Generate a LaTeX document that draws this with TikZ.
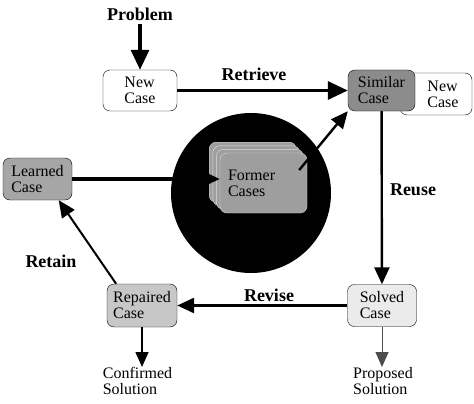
\documentclass[tikz,border=0pt]{standalone}
\usepackage{fontspec}
\setmainfont{Liberation Serif}
\usetikzlibrary{arrows.meta,calc}

\tikzset{
    casebox/.style={draw, rounded corners=7pt, align=left, inner sep=0pt,
        font=\fontsize{16}{16}\selectfont},
    steplabel/.style={font=\fontsize{18}{18}\selectfont\bfseries},
    flow/.style={line width=2.4pt, -{Triangle[length=17pt,width=15pt]}},
    bigflow/.style={line width=3.2pt, -{Triangle[length=20pt,width=18pt]}},
    outflow/.style={line width=1.6pt, -{Triangle[length=15pt,width=13pt]}}
}

\begin{document}
\begin{tikzpicture}[x=1pt, y=-1pt]

    \useasboundingbox (0,0) rectangle (474,404);

    \node[steplabel] (problem) at (140,14) {Problem};
    \node[casebox, fill=white, minimum width=74pt, minimum height=41pt] (new) at (140,90.5) {New\\Case};

    \node[casebox, fill=white, minimum width=72pt, minimum height=42pt] (newcopy) at (436,94) {\hspace*{14pt}New\\\hspace*{14pt}Case};
    \node[casebox, fill=black!45, minimum width=67pt, minimum height=41pt] (sim) at (381.5,90.5) {Similar\\Case};

    \node[circle, fill=black, minimum size=160pt] (store) at (251,193) {};
    \foreach \k in {3,2,1}
        \draw[fill=black!38, draw=black!12, rounded corners=7pt]
            (220-3.6*\k,153-3.6*\k) rectangle ++(87,60);
    \node[casebox, fill=black!38, draw=black!15, minimum width=87pt, minimum height=60pt,
        text width=71pt] (former) at (263.5,183) {Former\\Cases};

    \node[casebox, fill=black!35, minimum width=69pt, minimum height=42pt] (learned) at (37.5,179) {Learned\\Case};
    \node[casebox, fill=black!22, minimum width=70pt, minimum height=43pt] (repaired) at (142,305.5) {Repaired\\Case};
    \node[casebox, fill=black!8, minimum width=69pt, minimum height=42pt] (solved) at (382,305.5) {Solved\\Case};

    \node[casebox, draw=none, anchor=north] (confirmed) at (137.5,367) {Confirmed\\Solution};
    \node[casebox, draw=none, anchor=north] (proposed) at (383,367) {Proposed\\Solution};

    \node[steplabel] (retrieve) at (254,74) {Retrieve};
    \node[steplabel] (reuse) at (413,190) {Reuse};
    \node[steplabel] (revise) at (269,295) {Revise};
    \node[steplabel] (retain) at (51,261) {Retain};

    \draw[bigflow] (problem) -- (new);
    \draw[bigflow] (new) -- (sim);
    \draw[flow] (former.south) [shorten <=56pt] -- (sim.south west);
    \draw[flow] (sim) -- (solved);
    \draw[flow, line width=2.8pt] (solved) -- (repaired);
    \draw[flow, line width=3.4pt] (learned.east) -- (learned.east -| former.west);
    \draw[flow, line width=2pt] (repaired.140) -- (learned.-45);
    \draw[outflow] (repaired.south) -- (repaired.south |- confirmed.north);
    \draw[outflow, line width=1pt, draw=black!70] (solved.south) -- (solved.south |- proposed.north);

\end{tikzpicture}
\end{document}
